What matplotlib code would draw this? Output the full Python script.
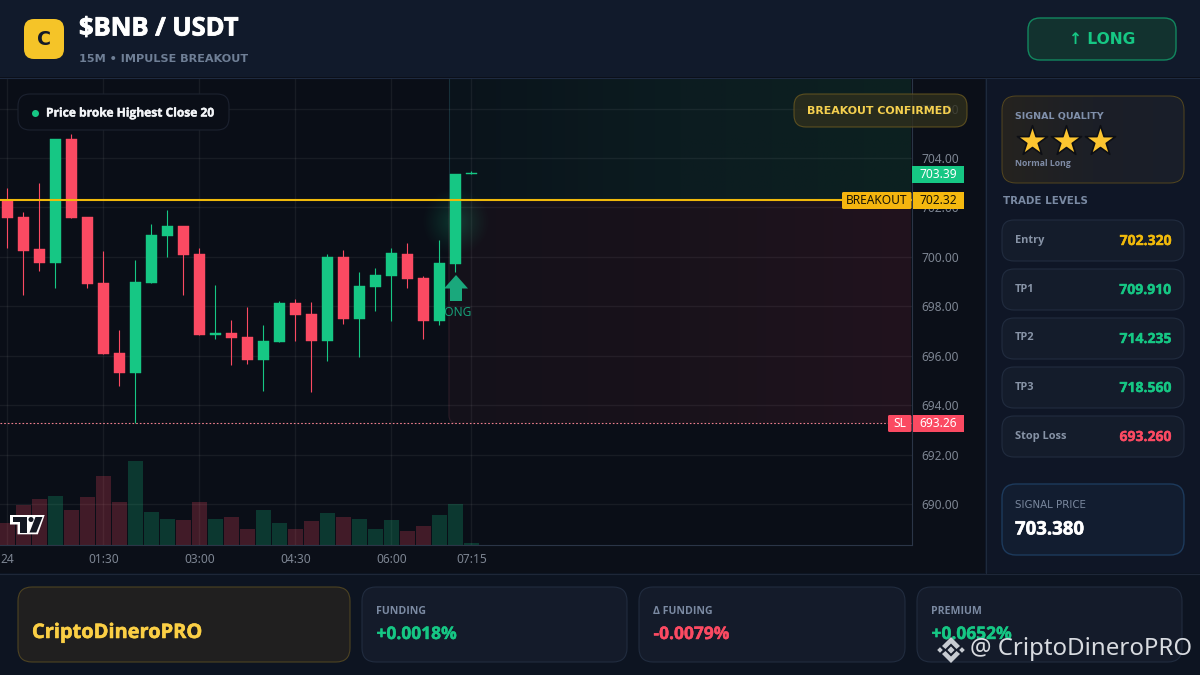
import numpy as np
import matplotlib
matplotlib.use("Agg")
import matplotlib.pyplot as plt
import matplotlib.patheffects as pe
from matplotlib.patches import FancyBboxPatch, Polygon, Rectangle, Circle
from matplotlib.colors import LinearSegmentedColormap, to_rgb

# 15m candles, first bar is 00:00 on the 24th
opens = [702.30, 701.61, 700.32, 699.75, 704.77, 701.61, 698.94, 696.11, 695.30, 698.94,
         700.84, 701.25, 700.11, 696.84, 696.92, 696.76, 695.83, 696.55, 698.13, 697.69,
         696.59, 699.99, 697.48, 698.78, 699.22, 700.11, 699.14, 697.40, 699.71, 703.35]
highs = [702.79, 701.81, 702.99, 704.77, 704.97, 701.61, 700.24, 697.04, 699.87, 701.33,
         701.90, 701.25, 700.36, 698.86, 697.44, 697.97, 697.24, 698.21, 698.29, 698.17,
         700.11, 700.28, 699.39, 699.55, 700.36, 700.56, 699.22, 700.68, 703.35, 703.47]
lows = [700.36, 698.46, 699.43, 698.74, 701.57, 698.74, 696.07, 694.77, 693.28, 698.94,
        699.99, 698.46, 696.84, 696.67, 695.62, 695.66, 694.57, 696.55, 696.59, 694.53,
        695.78, 697.28, 695.95, 697.81, 697.40, 698.74, 696.67, 697.24, 699.39, 703.35]
closes = [701.57, 700.24, 699.75, 704.77, 701.57, 698.90, 696.07, 695.30, 698.98, 700.88,
          701.25, 700.07, 696.84, 696.92, 696.72, 695.83, 696.59, 698.13, 697.65, 696.59,
          699.99, 697.48, 698.82, 699.27, 700.16, 699.10, 697.40, 699.75, 703.35, 703.39]
volumes = [66, 120, 138, 147, 105, 144, 207, 129, 252, 99, 78, 75, 129, 78, 84,
           48, 105, 66, 48, 72, 96, 84, 78, 48, 75, 42, 57, 90, 123, 6]

price_ticks = [690, 692, 694, 696, 698, 700, 702, 704, 706]
time_ticks = [0, 6, 12, 18, 24, 29]
time_labels = ["24", "01:30", "03:00", "04:30", "06:00", "07:15"]

BREAKOUT = 702.32
STOP = 693.26
LAST = 703.39
level_names = ["Entry", "TP1", "TP2", "TP3", "Stop Loss"]
level_values = ["702.320", "709.910", "714.235", "718.560", "693.260"]

GREEN = "#16c784"
RED = "#fb4a62"
GOLD = "#f0b90b"
W, H = 1200, 675
CHART_R, CHART_T, CHART_B = 912, 78, 545
BAR_PX, BAR0_PX = 16.0, 7.3
PRICE_PX, P704_PX = 24.71, 158.0
BOLD = "Open Sans"


def x_data(px):
    return (px - BAR0_PX) / BAR_PX


def p_data(py):
    return 704 - (py - P704_PX) / PRICE_PX


fig = plt.figure(figsize=(W / 100, H / 100), dpi=100, facecolor="#0b0f18")

# chart
ax = fig.add_axes([0, 1 - CHART_B / H, CHART_R / W, (CHART_B - CHART_T) / H], zorder=1)
ax.set_facecolor("#0a0e17")
ax.set_xlim(x_data(0), x_data(CHART_R))
ax.set_ylim(p_data(CHART_B), p_data(CHART_T))

# trade zones with a soft gradient
zone_left = x_data(449)
x_right = x_data(911)
green_cm = LinearSegmentedColormap.from_list("g", ["#0a131b", "#0c1c20", "#0c2120"])
red_cm = LinearSegmentedColormap.from_list("r", ["#14111a", "#19121b", "#21131e"])
grad = np.linspace(0, 1, 256).reshape(1, -1)
ax.imshow(grad, cmap=green_cm, aspect="auto", extent=[zone_left, x_right, BREAKOUT, p_data(CHART_T)], zorder=0.2)
red_im = ax.imshow(grad, cmap=red_cm, aspect="auto", extent=[zone_left, x_right, STOP, BREAKOUT], zorder=0.2)
ax.set_xlim(x_data(0), x_data(CHART_R))
ax.set_ylim(p_data(CHART_B), p_data(CHART_T))
red_box = FancyBboxPatch((zone_left, STOP), x_right - zone_left + 2, BREAKOUT - STOP + 1,
                         boxstyle="round,pad=0,rounding_size=0.5", mutation_aspect=16 / 24.71,
                         fc="none", ec="#2d1d28", lw=0.8, zorder=0.3)
ax.add_patch(red_box)
red_im.set_clip_path(red_box)
red_box.set_clip_path(Rectangle((zone_left - 1, STOP - 1), 1.5, BREAKOUT - STOP + 1, transform=ax.transData))
ax.plot([zone_left, zone_left], [BREAKOUT, p_data(CHART_T)], color="#17303a", lw=0.8, zorder=0.3)

# glow behind the breakout bar
gx, gy = np.meshgrid(np.linspace(-1, 1, 120), np.linspace(-1, 1, 120))
glow = np.zeros((120, 120, 4))
glow[..., :3] = to_rgb(GREEN)
glow[..., 3] = 0.24 * np.clip(1 - np.hypot(gx, gy), 0, 1) ** 1.2
ax.imshow(glow, aspect="auto", zorder=0.5,
          extent=[x_data(456 - 35), x_data(456 + 35), p_data(222 + 35), p_data(222 - 35)])
ax.set_xlim(x_data(0), x_data(CHART_R))
ax.set_ylim(p_data(CHART_B), p_data(CHART_T))

# candles
bars = np.arange(len(opens))
colors = [GREEN if c >= o else RED for o, c in zip(opens, closes)]
ax.vlines(bars, lows, highs, colors=colors, lw=0.8, zorder=3)
ax.bar(bars, np.array(closes) - np.array(opens), bottom=opens, width=11 / 16, color=colors,
       edgecolor=colors, lw=0.3, zorder=3.1)

# levels
ax.axhline(BREAKOUT, color=GOLD, lw=1.5, zorder=3.5)
ax.axhline(STOP, color="#f0808f", lw=0.8, dashes=(1.5, 1.8), zorder=2)

# long marker under bar 28
sig_x = 28
ax.add_patch(Polygon([(x_data(450), p_data(301)), (x_data(450), p_data(288.5)), (x_data(444), p_data(288.5)),
                      (x_data(456), p_data(275)), (x_data(468), p_data(288.5)), (x_data(462), p_data(288.5)),
                      (x_data(462), p_data(301))], fc="#1aa87c", lw=0, zorder=2.5))
ax.text(sig_x, p_data(312), "LONG", color="#17a078", fontsize=8.6, family="Noto Sans",
        ha="center", va="center", zorder=2.5)

# volume
ax_vol = ax.twinx()
ax_vol.set_zorder(1.5)
ax_vol.patch.set_visible(False)
ax_vol.set_ylim(0, (CHART_B - CHART_T) * 3)
ax_vol.set_yticks([])
for s in ax_vol.spines.values():
    s.set_visible(False)
ax_vol.bar(bars, volumes, width=15 / 16, color=colors, alpha=0.23, lw=0)

# axis dressing goes after twinx, which moves the ticks back to the left
ax.set_xticks(time_ticks)
ax.set_xticklabels(time_labels)
ax.set_yticks(price_ticks)
ax.set_yticklabels([f"{p:.2f}" for p in price_ticks])
ax.yaxis.tick_right()
ax.tick_params(length=0, labelsize=8.6, labelcolor="#7d8592")
ax.tick_params(axis="y", pad=6.5)
ax.tick_params(axis="x", pad=6)
for lab in ax.get_xticklabels() + ax.get_yticklabels():
    lab.set_family("Noto Sans")
ax.grid(True, color="#ffffff", alpha=0.06, lw=1.0)
ax.set_axisbelow(False)
for s in ["top", "left"]:
    ax.spines[s].set_visible(False)
for s in ["right", "bottom"]:
    ax.spines[s].set_color("#2b3547")
    ax.spines[s].set_linewidth(0.8)

# everything else is laid out in pixels on top
ui = fig.add_axes([0, 0, 1, 1], zorder=5)
ui.set_xlim(0, W)
ui.set_ylim(H, 0)
ui.axis("off")


def box(x, y, w, h, r, fc, ec="none", lw=0.8, alpha=None, z=1):
    p = FancyBboxPatch((x, y), w, h, boxstyle=f"round,pad=0,rounding_size={r}", fc=fc, ec=ec, lw=lw,
                       alpha=alpha, zorder=z)
    ui.add_patch(p)
    return p


def label(x, y, s, px, color, weight="normal", family="Noto Sans", ha="left", z=4, heavy=0):
    t = ui.text(x, y, s, fontsize=px * 0.72, color=color, fontweight=weight, family=family, ha=ha,
                va="center", zorder=z)
    if heavy:
        # the fonts here stop at bold, the reference text is a bit heavier
        t.set_path_effects([pe.withStroke(linewidth=heavy, foreground=color)])


# header
ui.add_patch(Rectangle((0, 0), W, 77, fc="#111a2b", lw=0))
ui.plot([0, W], [77.5, 77.5], color="#1e2a40", lw=0.8)
box(24, 19, 40, 40, 10, "#f5c428")
label(44, 39.5, "C", 19, "#141a28", "bold", family="DejaVu Sans", ha="center")
label(79, 28, "$BNB / USDT", 25.5, "#ffffff", "bold", family=BOLD, heavy=0.6)
label(79, 59.5, "15M • IMPULSE BREAKOUT", 11.2, "#6f7f96", "bold", family="DejaVu Sans")
box(1028, 18, 148, 42, 12, "#12322f", "#12875f", 1.0)
label(1102, 39, "↑ LONG", 15.5, GREEN, "bold", family="DejaVu Sans", ha="center")

# side column
ui.add_patch(Rectangle((985, 78), W - 985, 495, fc="#0f1626", lw=0))
ui.plot([985.5, 985.5], [78, 573], color="#1e2a3c", lw=0.8)

# footer
ui.add_patch(Rectangle((0, 573), W, H - 573, fc="#0d1421", lw=0))
ui.plot([0, W], [573.5, 573.5], color="#1e2738", lw=0.8)

# signal quality
card = box(1002, 96, 182, 87, 14, "#1d2029")
sq_cm = LinearSegmentedColormap.from_list("sq", ["#25231f", "#1c1f27", "#191e2a"])
sq_im = ui.imshow(grad, cmap=sq_cm, aspect="auto", extent=[1002, 1184, 183, 96], zorder=1.1)
sq_im.set_clip_path(card)
ui.set_xlim(0, W)
ui.set_ylim(H, 0)
box(1002, 96, 182, 87, 14, "none", "#54471f", 0.7, z=1.2)
label(1015, 116.5, "SIGNAL QUALITY", 9.5, "#8090ab", "bold", family="DejaVu Sans")
ui.scatter([1032, 1066, 1100], [141, 141, 141], marker="*", s=520, c="#fcc530", edgecolors="#0d0f15",
           linewidths=1.2, zorder=3)
label(1015, 163.5, "Normal Long", 8.7, "#7f8ca6", "bold", family=BOLD)
label(1003, 200.5, "TRADE LEVELS", 10.2, "#7a8aa3", "bold", family="DejaVu Sans")

# trade levels
level_colors = [GOLD, GREEN, GREEN, GREEN, RED]
level_tops = [220, 269, 318, 367, 416]
for name, val, col, top in zip(level_names, level_values, level_colors, level_tops):
    box(1002, top, 182, 41, 12, "#141c2b", "#212c3f")
    label(1015, top + 20, name, 11, "#8793a6", "bold", family=BOLD)
    label(1171.5, top + 21, val, 14, col, "bold", family=BOLD, ha="right", heavy=0.3)

# signal price
box(1002, 484, 182, 71, 14, "#121d30", "#1d3a5c", 1.0)
label(1015, 505.5, "SIGNAL PRICE", 10.3, "#7a889e", family="DejaVu Sans")
label(1015, 529.5, "703.380", 18.6, "#ffffff", "bold", family=BOLD, heavy=0.4)

# funding row
box(18, 587, 332, 75, 14, "#201f1f", "#4d4322", 0.8)
label(32, 633, "CriptoDineroPRO", 20, "#fbcf45", "bold", family=BOLD, heavy=0.4)
foot_x = [362, 639, 917]
foot_w = [265, 266, 265]
foot_names = ["FUNDING", "Δ FUNDING", "PREMIUM"]
foot_vals = ["+0.0018%", "-0.0079%", "+0.0652%"]
foot_cols = [GREEN, RED, GREEN]
for x0, w0, n, v, c in zip(foot_x, foot_w, foot_names, foot_vals, foot_cols):
    box(x0, 587, w0, 75, 14, "#141b2a", "#212c3f")
    label(x0 + 14, 611.5, n, 10.5, "#7b8aa2", "bold", family=BOLD)
    label(x0 + 14.5, 634, v, 17.4, c, "bold", family=BOLD, heavy=0.3)

# chart overlays
box(18, 94, 211, 36, 12, "#0a0e17", "#1c2230")
ui.add_patch(Circle((35.5, 113.5), 3.5, fc=GREEN, lw=0))
label(46, 113, "Price broke Highest Close 20", 12, "#f2f4f7", "bold", family=BOLD, heavy=0.3)
box(794, 94, 173, 33, 12, "#2f2f1d", "#6b5a20", 0.8, alpha=0.8)
label(807, 111, "BREAKOUT CONFIRMED", 11, "#f5d04f", "bold", family="DejaVu Sans")

# price scale tags
ui.add_patch(Rectangle((912, 166), 52, 17, fc=GREEN, lw=0))
label(938, 174.5, "703.39", 12, "#ffffff", ha="center")
box(842, 192, 69.5, 17, 1.5, "#f5b50f")
label(876.5, 200.5, "BREAKOUT", 12, "#1a1505", ha="center")
ui.add_patch(Rectangle((912.5, 192), 51.5, 17, fc="#f5b90f", lw=0))
label(938, 200.5, "702.32", 12, "#1a1505", ha="center")
box(888, 415, 23.5, 17, 1.5, RED)
label(899.5, 423.5, "SL", 12, "#ffffff", ha="center")
ui.add_patch(Rectangle((912.5, 415), 51.5, 17, fc=RED, lw=0))
label(938, 423.5, "693.26", 12, "#ffffff", ha="center")

# tradingview mark
ui.add_patch(Polygon([(10, 515), (44.7, 515), (37.8, 534.3), (17.5, 534.3), (17.5, 524.5), (10, 524.5)],
                     fc="#ffffff", lw=0, zorder=3))
ui.add_patch(Polygon([(12.5, 517), (27, 517), (27, 532.5), (19.5, 532.5), (19.5, 522), (12.5, 522)],
                     fc="#131722", lw=0, zorder=3.1))
ui.add_patch(Polygon([(42.5, 517), (36.3, 532.5), (29.5, 532.5), (35.5, 517)], fc="#131722", lw=0, zorder=3.1))
ui.add_patch(Circle((31, 519.5), 2.5, fc="#131722", lw=0, zorder=3.1))

# watermark
mark = "#d8dbe0"
chevrons = [[(951, 637), (960, 646), (956.5, 649), (951, 643.5), (945.5, 649), (942, 646)],
            [(951, 663), (960, 654), (956.5, 651), (951, 656.5), (945.5, 651), (942, 654)]]
for pts in chevrons:
    ui.add_patch(Polygon(pts, fc=mark, lw=0, alpha=0.92, zorder=6))
for cx, r in [(951, 3.6), (940, 2.8), (962, 2.8)]:
    ui.add_patch(Polygon([(cx, 650 - r), (cx + r, 650), (cx, 650 + r), (cx - r, 650)], fc=mark, lw=0, alpha=0.92, zorder=6))
label(970, 649, "@ CriptoDineroPRO", 24, mark, family="Noto Sans", z=6)

fig.savefig("out.png", dpi=100, facecolor=fig.get_facecolor())
